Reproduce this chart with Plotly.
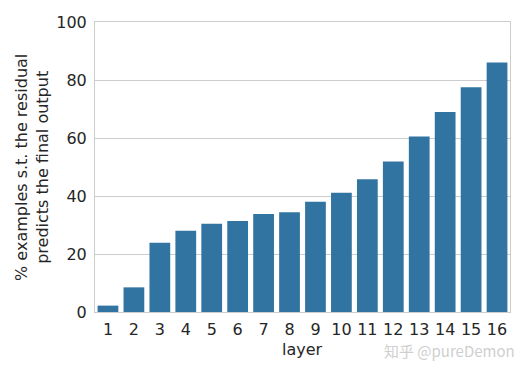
import plotly.graph_objects as go

layers = [str(i) for i in range(1, 17)]
percent = [2.2, 8.5, 23.9, 28.0, 30.4, 31.4, 33.8, 34.4, 38.0, 41.1, 45.8, 51.9, 60.5, 69.0, 77.5, 86.0]
y_ticks = [0, 20, 40, 60, 80, 100]

font = "DejaVu Sans, Liberation Sans, sans-serif"
fig = go.Figure(go.Bar(x=layers, y=percent, marker=dict(color="#3274a1", line=dict(width=0)), width=0.8))

fig.update_layout(
    width=529, height=369,
    margin=dict(l=87, r=27, t=14, b=65),
    paper_bgcolor="white", plot_bgcolor="white",
    font=dict(family=font, size=16, color="#262626"),
    showlegend=False,
)
fig.update_xaxes(
    type="category", range=[-0.5, 15.5], automargin=False,
    showline=True, mirror=True, linecolor="#cccccc", linewidth=1,
    showgrid=False, ticks="outside", ticklen=3, tickcolor="rgba(0,0,0,0)",
    tickfont=dict(size=16),
)
fig.update_yaxes(
    range=[0, 100], tickvals=y_ticks, automargin=False,
    showline=True, mirror=True, linecolor="#cccccc", linewidth=1,
    showgrid=True, gridcolor="#cccccc", gridwidth=1, zeroline=False,
    ticks="outside", ticklen=4, tickcolor="rgba(0,0,0,0)",
    tickfont=dict(size=16),
)
fig.add_annotation(
    text="layer", xref="paper", yref="paper", x=0.5, y=-0.128,
    xanchor="center", yanchor="middle", showarrow=False, font=dict(size=16),
)
fig.add_annotation(
    text="% examples s.t. the residual<br>predicts the final output",
    xref="paper", yref="paper", x=-0.152, y=0.5, textangle=-90,
    xanchor="center", yanchor="middle", showarrow=False, font=dict(size=16),
)
fig.add_annotation(
    text="知乎 @pureDemon", xref="paper", yref="paper", x=1.0145, y=-0.132,
    xanchor="right", yanchor="middle", showarrow=False, borderpad=0,
    font=dict(family="Noto Sans CJK SC, sans-serif", size=15, color="#cfcfcf"),
)
fig.write_html("out.html")
